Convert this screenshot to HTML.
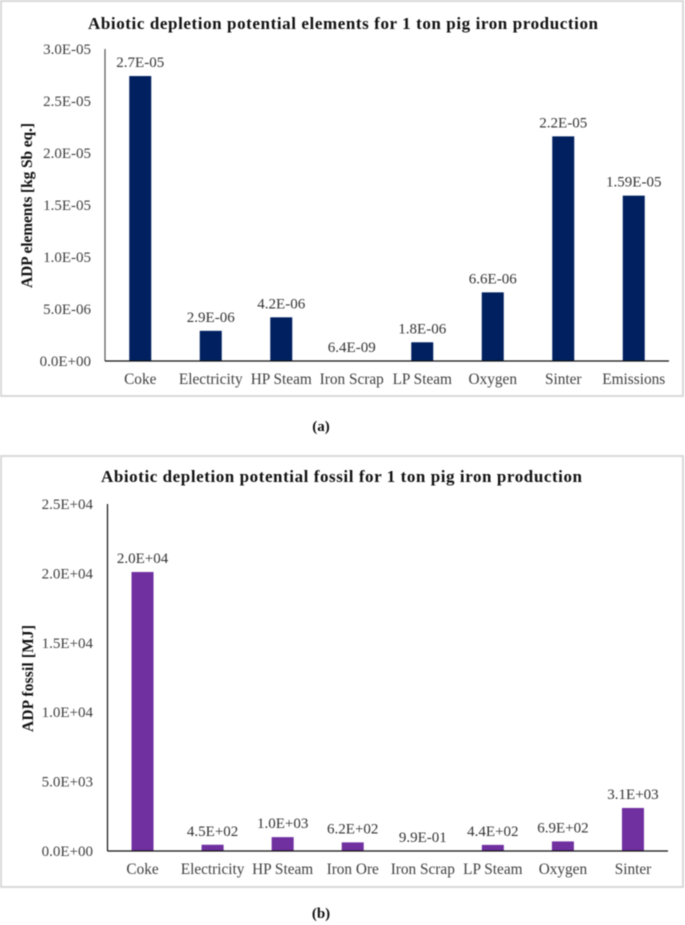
<!DOCTYPE html>
<html>
<head>
<meta charset="utf-8">
<title>Abiotic depletion potential charts</title>
<style>
html,body{margin:0;padding:0;background:#fff;width:685px;height:925px;overflow:hidden}
svg{display:block;filter:blur(0.4px)}
text{font-family:"Liberation Serif","Times New Roman",serif}
</style>
</head>
<body>
<svg id="figure" xmlns="http://www.w3.org/2000/svg" width="685" height="925" viewBox="0 0 685 925">
  <rect x="1" y="1" width="682" height="395" fill="#fff" stroke="#d9d9d9" stroke-width="2"/>
  <text x="343" y="29" text-anchor="middle" font-size="17" font-weight="bold" fill="#111" textLength="510" lengthAdjust="spacing">Abiotic depletion potential elements for 1 ton pig iron production</text>
  <text transform="translate(32,205.5) rotate(-90)" text-anchor="middle" font-size="15.5" font-weight="bold" fill="#111" textLength="165" lengthAdjust="spacing">ADP elements [kg Sb eq.]</text>
  <g id="chart-a"></g>
  <text x="321" y="431" text-anchor="middle" font-size="15" font-weight="bold" fill="#111">(a)</text>

  <rect x="1" y="456" width="682" height="431" fill="#fff" stroke="#d9d9d9" stroke-width="2"/>
  <text x="341.5" y="482" text-anchor="middle" font-size="17" font-weight="bold" fill="#111" textLength="481" lengthAdjust="spacing">Abiotic depletion potential fossil for 1 ton pig iron production</text>
  <text transform="translate(33,678.5) rotate(-90)" text-anchor="middle" font-size="15.5" font-weight="bold" fill="#111" textLength="107" lengthAdjust="spacing">ADP fossil [MJ]</text>
  <g id="chart-b"></g>
  <text x="321" y="918" text-anchor="middle" font-size="15" font-weight="bold" fill="#111">(b)</text>
</svg>
<script>
const categoriesA = ["Coke", "Electricity", "HP Steam", "Iron Scrap", "LP Steam", "Oxygen", "Sinter", "Emissions"];
const valuesA = [2.74e-5, 2.9e-6, 4.2e-6, 6.4e-9, 1.8e-6, 6.6e-6, 2.16e-5, 1.59e-5];
const valueLabelsA = ["2.7E-05", "2.9E-06", "4.2E-06", "6.4E-09", "1.8E-06", "6.6E-06", "2.2E-05", "1.59E-05"];
const tickValuesA = [0, 5e-6, 1e-5, 1.5e-5, 2e-5, 2.5e-5, 3e-5];
const tickLabelsA = ["0.0E+00", "5.0E-06", "1.0E-05", "1.5E-05", "2.0E-05", "2.5E-05", "3.0E-05"];

const categoriesB = ["Coke", "Electricity", "HP Steam", "Iron Ore", "Iron Scrap", "LP Steam", "Oxygen", "Sinter"];
const valuesB = [20100, 450, 1000, 620, 0.99, 440, 690, 3100];
const valueLabelsB = ["2.0E+04", "4.5E+02", "1.0E+03", "6.2E+02", "9.9E-01", "4.4E+02", "6.9E+02", "3.1E+03"];
const tickValuesB = [0, 5000, 10000, 15000, 20000, 25000];
const tickLabelsB = ["0.0E+00", "5.0E+03", "1.0E+04", "1.5E+04", "2.0E+04", "2.5E+04"];

const SVG_NS = "http://www.w3.org/2000/svg";

function slug(s) {
  return s.toLowerCase().replace(/[^a-z0-9]+/g, "-");
}

function drawChart(cfg) {
  const root = document.getElementById(cfg.id);
  const n = cfg.categories.length;
  const band = (cfg.right - cfg.left) / n;
  const xPos = function (i) { return cfg.left + band * (i + 0.5); };
  const yPos = function (v) { return cfg.bottom - (v / cfg.max) * (cfg.bottom - cfg.top); };

  cfg.tickValues.forEach(function (v, i) {
    const el = document.createElementNS(SVG_NS, "text");
    
    
    el.setAttribute("x", cfg.left - cfg.tickGap);
    el.setAttribute("y", yPos(v) + 5);
    el.setAttribute("text-anchor", "end");
    el.setAttribute("font-size", "15");
    el.setAttribute("fill", "#404040");
    el.textContent = cfg.tickLabels[i];
    root.appendChild(el);
  });

  cfg.values.forEach(function (v, i) {
    const bar = document.createElementNS(SVG_NS, "rect");
    
    
    bar.setAttribute("x", xPos(i) - 11);
    bar.setAttribute("y", yPos(v));
    bar.setAttribute("width", 22);
    bar.setAttribute("height", cfg.bottom - yPos(v));
    bar.setAttribute("fill", cfg.color);
    root.appendChild(bar);

    const label = document.createElementNS(SVG_NS, "text");
    
    
    label.setAttribute("x", xPos(i));
    label.setAttribute("y", yPos(v) - 9);
    label.setAttribute("text-anchor", "middle");
    label.setAttribute("font-size", "15");
    label.setAttribute("fill", "#333");
    label.textContent = cfg.valueLabels[i];
    root.appendChild(label);

    const cat = document.createElementNS(SVG_NS, "text");
    
    
    cat.setAttribute("x", xPos(i));
    cat.setAttribute("y", cfg.catY);
    cat.setAttribute("text-anchor", "middle");
    cat.setAttribute("font-size", "15.3");
    cat.setAttribute("fill", "#404040");
    cat.textContent = cfg.categories[i];
    root.appendChild(cat);
  });

  const yAxis = document.createElementNS(SVG_NS, "line");
  
  
  yAxis.setAttribute("x1", cfg.left);
  yAxis.setAttribute("x2", cfg.left);
  yAxis.setAttribute("y1", cfg.top);
  yAxis.setAttribute("y2", cfg.bottom);
  yAxis.setAttribute("stroke", cfg.yAxisColor);
  yAxis.setAttribute("stroke-width", "1.2");
  root.appendChild(yAxis);

  const xAxis = document.createElementNS(SVG_NS, "line");
  
  
  xAxis.setAttribute("x1", cfg.left);
  xAxis.setAttribute("x2", cfg.right);
  xAxis.setAttribute("y1", cfg.bottom);
  xAxis.setAttribute("y2", cfg.bottom);
  xAxis.setAttribute("stroke", "#111");
  xAxis.setAttribute("stroke-width", "1.2");
  root.appendChild(xAxis);
}

drawChart({
  id: "chart-a",
  categories: categoriesA,
  values: valuesA,
  valueLabels: valueLabelsA,
  tickValues: tickValuesA,
  tickLabels: tickLabelsA,
  max: 3e-5,
  left: 105,
  right: 669,
  top: 49,
  bottom: 361,
  catY: 384,
  tickGap: 14,
  color: "#002060",
  yAxisColor: "#555"
});

drawChart({
  id: "chart-b",
  categories: categoriesB,
  values: valuesB,
  valueLabels: valueLabelsB,
  tickValues: tickValuesB,
  tickLabels: tickLabelsB,
  max: 25000,
  left: 107.5,
  right: 668,
  top: 504,
  bottom: 851,
  catY: 874,
  tickGap: 14.5,
  color: "#7030A0",
  yAxisColor: "#111"
});
</script>
</body>
</html>
